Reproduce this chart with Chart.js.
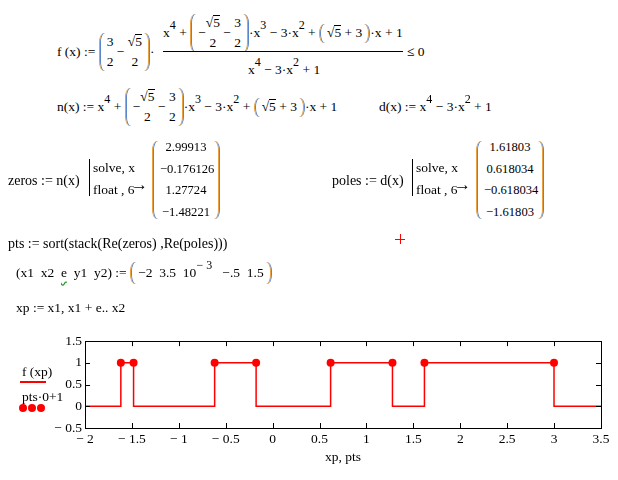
<!DOCTYPE html>
<html lang="en">
<head>
<meta charset="UTF-8" />
<title>f(x) ≤ 0 | sign chart</title>
<script src="https://cdn.jsdelivr.net/npm/chart.js"></script>
<style>
  body {
    margin: 0;
    width: 618px;
    height: 480px;
    position: relative;
    overflow: hidden;
    background: #fff;
    color: #000;
    font-family: 'Liberation Serif', 'Times New Roman', serif;
    font-size: 13.5px;
  }
  .row {
    position: absolute;
    height: 0;
    display: flex;
    align-items: center;
    white-space: pre;
    line-height: 16px;
  }
  .grp { display: inline-flex; align-items: center; }
  .lp, .rp { width: 5px; flex: none; }
  .lp {
    border-left: 1px solid #e8a040;
    box-shadow: inset 1px 0 0 #5a86cc;
    border-radius: 5px 0 0 5px / 9px 0 0 9px;
    margin-right: 2px;
  }
  .rp {
    border-right: 1px solid #5a86cc;
    box-shadow: inset -1px 0 0 #e8a040;
    border-radius: 0 5px 5px 0 / 0 9px 9px 0;
    margin-left: 2px;
  }
  .fr { display: inline-flex; flex-direction: column; align-items: center; line-height: 20px; }
  .ov { border-top: 1px solid #000; line-height: 13px; display: inline-block; }
  .sp { font-size: 12px; position: relative; top: -8px; }
  .wv { text-decoration: underline wavy #1a9a1a; text-underline-offset: 4px; }
  .mat {
    position: absolute;
    height: 86px;
    display: flex;
    align-items: center;
  }
  .mat .col { width: 52px; text-align: center; line-height: 21.5px; font-size: 12.6px; }
  .mat .lp, .mat .rp { height: 78px; }
  .bar { position: absolute; background: #000; }
  #plot { position: absolute; left: 0; top: 330px; }
  .dot { position: absolute; width: 8px; height: 8px; border-radius: 50%; background: #f00; }
</style>
</head>
<body>
  <canvas id="plot" width="618" height="150"></canvas>

  <script>
    // values
    const zeros = [2.99913, -0.176126, 1.27724, -1.48221];
    const poles = [1.61803, 0.618034, -0.618034, -1.61803];
    const pts = [-1.61803, -1.48221, -0.618034, -0.176126, 0.618034, 1.27724, 1.61803, 2.99913];
    const ptsLevel = [1, 1, 1, 1, 1, 1, 1, 1];
    const stepX = [-2, -1.61803, -1.48221, -0.618034, -0.176126, 0.618034, 1.27724, 1.61803, 2.99913, 3.5];
    const stepY = [0, 1, 0, 1, 0, 1, 0, 1, 0, 0];
    const xTicks = [-2, -1.5, -1, -0.5, 0, 0.5, 1, 1.5, 2, 2.5, 3, 3.5];
    const xTickLabels = ['− 2', '− 1.5', '− 1', '− 0.5', '0', '0.5', '1', '1.5', '2', '2.5', '3', '3.5'];
    const yTicks = [-0.5, 0, 0.5, 1, 1.5];
    const yTickLabels = ['− 0.5', '0', '0.5', '1', '1.5'];

    // little markup helpers for the math rows
    const fr = (a, b) => `<span class="fr"><span>${a}</span><span>${b}</span></span>`;
    const rt = n => `<span>√<span class="ov">${n}</span></span>`;
    const sup = n => `<span class="sp">${n}</span>`;
    const par = (h, inner) => `<span class="grp"><span class="lp" style="height:${h}px"></span>${inner}<span class="rp" style="height:${h}px"></span></span>`;
    const num = v => String(v).replace('-', '−');

    const numer = `x${sup(4)} + ${par(38, `−${fr(rt(5), '2')} − ${fr('3', '2')}`)}·x${sup(3)} − 3·x${sup(2)} + ${par(19, `${rt(5)} + 3`)}·x + 1`;
    const denom = `x${sup(4)} − 3·x${sup(2)} + 1`;

    const rows = [
      [57, 52, `f (x) := ${par(38, `${fr('3', '2')} − ${fr(rt(5), '2')}`)}·`],
      [163, 33, numer],
      [248, 70, denom],
      [407, 52, '≤ 0'],
      [57, 107, `n(x) := ${numer}`],
      [379, 107, `d(x) := ${denom}`],
      [8, 181, 'zeros := n(x)', 14],
      [93, 168, 'solve, x'],
      [93, 190, 'float , 6'],
      [131, 185, '→', 17],
      [332, 181, 'poles := d(x)', 14],
      [416, 168, 'solve, x'],
      [416, 190, 'float , 6'],
      [454, 185, '→', 17],
      [8, 244, 'pts := sort(stack(Re(zeros) ,Re(poles)))', 14],
      [16, 273, `(x1  x2  <span class="wv">e</span>  y1  y2) := ${par(22, `−2  3.5  10${sup('− 3')}   −.5  1.5`)}`],
      [16, 308, 'xp := x1, x1 + e.. x2'],
      [22, 372, 'f (xp)'],
      [22, 397, 'pts·0+1']
    ];
    rows.forEach(([x, y, html, size]) => {
      const d = document.createElement('div');
      d.className = 'row';
      d.style.left = x + 'px';
      d.style.top = y + 'px';
      if (size) d.style.fontSize = size + 'px';
      d.innerHTML = html;
      document.body.appendChild(d);
    });

    const matrix = (x, vals) => {
      const d = document.createElement('div');
      d.className = 'mat';
      d.style.left = x + 'px';
      d.style.top = '137px';
      d.innerHTML = `<span class="lp"></span><div class="col">${vals.map(v => `<div>${num(v)}</div>`).join('')}</div><span class="rp"></span>`;
      document.body.appendChild(d);
    };
    matrix(152, zeros);
    matrix(476, poles);

    const bar = (x, y, w, h, color) => {
      const d = document.createElement('div');
      d.className = 'bar';
      Object.assign(d.style, { left: x + 'px', top: y + 'px', width: w + 'px', height: h + 'px' });
      if (color) d.style.background = color;
      document.body.appendChild(d);
    };
    bar(163, 51, 240, 1);          // big fraction line
    bar(89, 159, 1, 37);           // symbolic eval bar (zeros)
    bar(412, 159, 1, 37);          // symbolic eval bar (poles)
    bar(395, 239, 10, 1, '#f00');  // red insertion cross
    bar(400, 234, 1, 10, '#f00');
    bar(20, 381, 26, 1.5, '#f00'); // key line under f(xp)
    [23, 32, 41].forEach(cx => {
      const d = document.createElement('div');
      d.className = 'dot';
      d.style.left = (cx - 4) + 'px';
      d.style.top = '404px';
      document.body.appendChild(d);
    });

    // Mathcad style frame with ticks pointing inward on all four sides
    const mathcadFrame = {
      id: 'mathcadFrame',
      afterDatasetsDraw(chart) {
        const { ctx, chartArea: a, scales: { x, y } } = chart;
        ctx.save();
        ctx.strokeStyle = '#000';
        ctx.lineWidth = 1;
        ctx.beginPath();
        xTicks.forEach(v => {
          const px = Math.round(x.getPixelForValue(v)) + 0.5;
          ctx.moveTo(px, a.bottom); ctx.lineTo(px, a.bottom - 5);
          ctx.moveTo(px, a.top); ctx.lineTo(px, a.top + 5);
        });
        yTicks.forEach(v => {
          const py = Math.round(y.getPixelForValue(v)) + 0.5;
          ctx.moveTo(a.left, py); ctx.lineTo(a.left + 5, py);
          ctx.moveTo(a.right, py); ctx.lineTo(a.right - 5, py);
        });
        ctx.stroke();
        ctx.strokeRect(Math.round(a.left) + 0.5, Math.round(a.top) + 0.5,
          Math.round(a.right - a.left), Math.round(a.bottom - a.top));
        ctx.restore();
      }
    };

    const font = { family: "'Liberation Serif', 'Times New Roman', serif", size: 13.5 };

    new Chart(document.getElementById('plot'), {
      type: 'scatter',
      data: {
        datasets: [
          {
            label: 'pts·0+1',
            data: pts.map((v, i) => ({ x: v, y: ptsLevel[i] })),
            showLine: false,
            pointRadius: 4,
            pointBackgroundColor: '#f00',
            pointBorderWidth: 0
          },
          {
            label: 'f(xp)',
            data: stepX.map((v, i) => ({ x: v, y: stepY[i] })),
            showLine: true,
            // Chart.js 'before' = keep the previous value until the next x
            stepped: 'before',
            borderColor: '#f00',
            borderWidth: 1.5,
            pointRadius: 0
          }
        ]
      },
      options: {
        responsive: false,
        animation: false,
        layout: { padding: { left: 0, top: 11, right: 17, bottom: 0 } },
        plugins: { legend: { display: false }, tooltip: { enabled: false } },
        scales: {
          x: {
            type: 'linear',
            min: -2,
            max: 3.5,
            afterBuildTicks: s => { s.ticks = xTicks.map(v => ({ value: v })); },
            afterFit: s => { s.height = 52; },
            grid: { display: false, drawTicks: false },
            border: { display: false },
            ticks: {
              padding: 3,
              color: '#000',
              font: font,
              maxRotation: 0,
              autoSkip: false,
              callback: (v, i) => xTickLabels[i]
            },
            title: { display: true, text: 'xp, pts', color: '#000', font: font, padding: { top: 0, bottom: 14 } }
          },
          y: {
            type: 'linear',
            min: -0.5,
            max: 1.5,
            afterBuildTicks: s => { s.ticks = yTicks.map(v => ({ value: v })); },
            afterFit: s => { s.width = 85; },
            grid: { display: false, drawTicks: false },
            border: { display: false },
            ticks: {
              padding: 3,
              color: '#000',
              font: font,
              autoSkip: false,
              callback: (v, i) => yTickLabels[i]
            }
          }
        }
      },
      plugins: [mathcadFrame]
    });
  </script>
</body>
</html>
